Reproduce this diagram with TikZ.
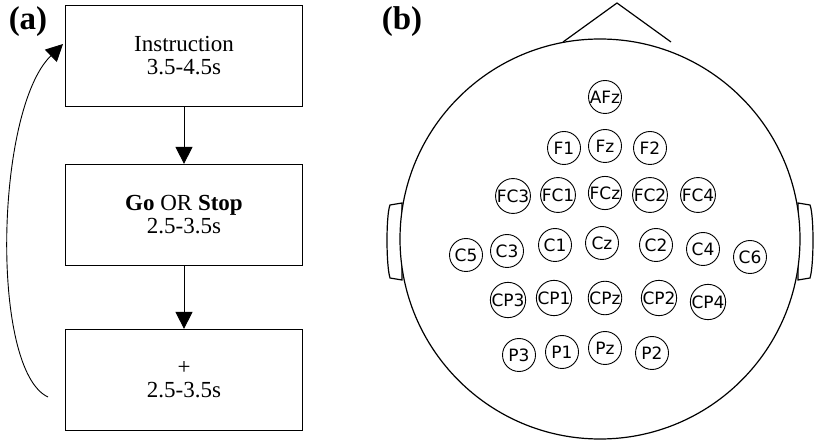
\documentclass[tikz,border=0pt]{standalone}
\usepackage{fontspec}
\setmainfont{Liberation Serif}
\newfontfamily\elfont{DejaVu Sans}
\usetikzlibrary{arrows.meta}
\begin{document}
\begin{tikzpicture}[x=1pt,y=-1pt,
 box/.style={draw,line width=1.2pt,minimum width=237pt,minimum height=101pt,align=center,font=\fontsize{23}{23}\selectfont},
 el/.style={draw,circle,line width=0.9pt,minimum size=33pt,inner sep=0pt,font=\elfont\fontsize{17}{17}\selectfont},
 arr/.style={line width=0.9pt,-{Triangle[length=17pt,width=17pt]}},
 lab/.style={font=\bfseries\fontsize{33}{33}\selectfont}]
\useasboundingbox (0,0) rectangle (825,446);
\node[lab] (la) at (28,22) {(a)};
\node[lab] (lb) at (402,22) {(b)};
\node[box] (b1) at (184,56) {Instruction\\3.5-4.5s};
\node[box] (b2) at (184,215) {\textbf{Go} OR \textbf{Stop}\\2.5-3.5s};
\node[box] (b3) at (184,380) {+\\2.5-3.5s};
\draw[arr] (b1) -- (b2);
\draw[arr] (b2) -- (b3);
\coordinate (s) at (48,397);
\coordinate (e) at (63,44);
\draw[arr] (s) .. controls (-10,370) and (-5,110) .. (e);
% head
\draw[line width=1.2pt,fill=white] (390,205) .. controls (386,215) and (386,265) .. (390,278) -- (402,280) -- (402,203) -- cycle;
\draw[line width=1.2pt,fill=white] (810,205) .. controls (814,215) and (814,265) .. (810,278) -- (798,280) -- (798,203) -- cycle;
\draw[line width=1.2pt] (563,42) -- (617,3) -- (671,42);
\draw[line width=1.2pt,fill=white] (600,239) circle[radius=200];
\foreach \n/\x/\y in {AFz/605/97,F1/564/148,Fz/605/146,F2/650/148,FC3/513/196,FC1/558/195,FCz/605/193,FC2/650/195,FC4/698/195,C5/466/255,C3/507/251,C1/555/245,Cz/602/243,C2/656/245,C4/703/249,C6/750/257,CP3/508/300,CP1/554/298,CPz/605/298,CP2/659/298,CP4/708/302,P3/519/355,P1/562/352,Pz/605/348,P2/652/353}
 \node[el] (\n) at (\x,\y) {\n};
\end{tikzpicture}
\end{document}
